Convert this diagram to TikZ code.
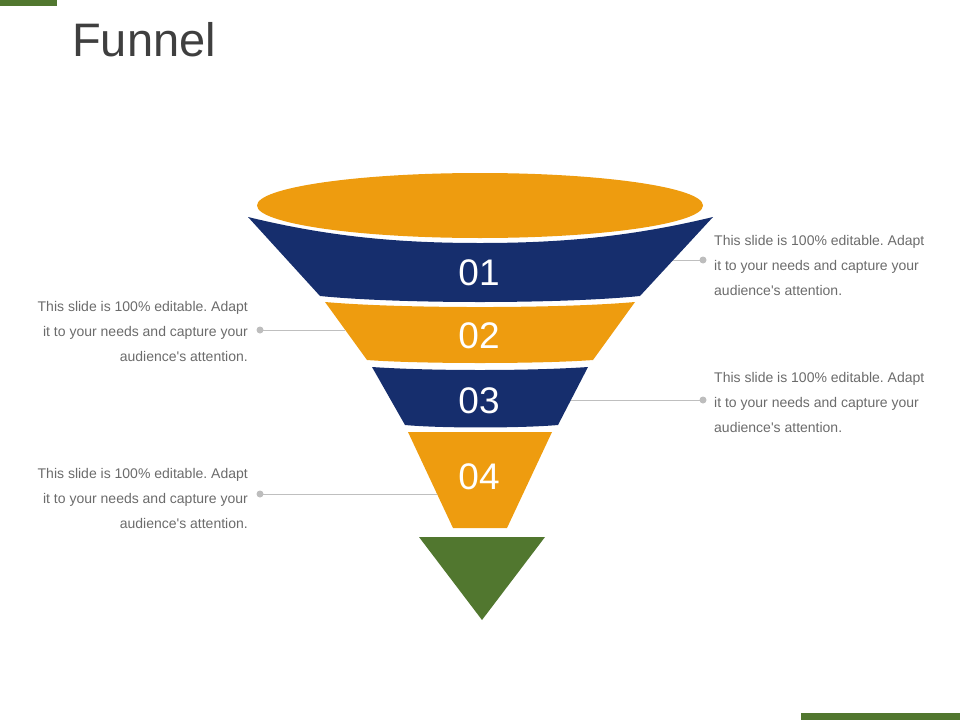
\documentclass[tikz,border=0pt]{standalone}
\usepackage{fontspec}
\setmainfont{Liberation Sans}
\frenchspacing
\definecolor{forange}{HTML}{EE9C0F}
\definecolor{fnavy}{HTML}{162E6D}
\definecolor{fgreen}{HTML}{51772F}
\definecolor{ftitle}{HTML}{3F3F3F}
\definecolor{ftext}{HTML}{6B6B6B}
\definecolor{fline}{HTML}{BFBFBF}
\definecolor{fdot}{HTML}{BDBDBD}
\newcommand{\desctext}{This slide is 100\% editable. Adapt\\it to your needs and capture your\\audience\textquotesingle s attention.}
\tikzset{
  numlabel/.style={text=white,font=\fontsize{37}{40}\selectfont,inner sep=0pt},
  desc/.style={text=ftext,font=\fontsize{14}{25}\selectfont,inner sep=0pt},
  leader/.style={draw=fline,line width=1pt},
  dotmark/.style={fill=fdot},
}
\begin{document}
\begin{tikzpicture}[x=1pt,y=-1pt]
\useasboundingbox (0,0) rectangle (960,720);
% corner bars
\fill[fgreen] (0,0) rectangle (57,6);
\fill[fgreen] (801,713) rectangle (960,720);
% title
\node[anchor=base west,inner sep=0pt,text=ftitle,font=\fontsize{47}{50}\selectfont] (title) at (72,56) {Funnel};
% top ellipse
\fill[forange] (480,205.5) ellipse [x radius=223,y radius=32.5];
% band 1
\fill[fnavy] (248,217) .. controls (330,237) and (400,243) .. (480,243)
  .. controls (560,243) and (630,237) .. (713,217)
  -- (640,296) .. controls (560,304) and (400,304) .. (320,296) -- cycle;
% band 2
\fill[forange] (325,302) .. controls (400,308.7) and (560,308.7) .. (635,302)
  -- (593,360) .. controls (540,364) and (420,364) .. (367,360) -- cycle;
% band 3
\fill[fnavy] (372,367) .. controls (430,371) and (530,371) .. (588,367)
  -- (558,425) .. controls (520,428.3) and (440,428.3) .. (405,425) -- cycle;
% band 4
\fill[forange] (408,432) -- (552,432) -- (507,528) -- (453,528) -- cycle;
% tip
\fill[fgreen] (419,537) -- (545,537) -- (482,620) -- cycle;
% numbers
\node[numlabel] (n1) at (479,273) {01};
\node[numlabel] (n2) at (479,336) {02};
\node[numlabel] (n3) at (479,401) {03};
\node[numlabel] (n4) at (479,477) {04};
% leader coordinates
\coordinate (e1) at (673,260);
\coordinate (d1) at (703,260);
\coordinate (e2) at (345,330);
\coordinate (d2) at (260,330);
\coordinate (e3) at (571,400);
\coordinate (d3) at (703,400);
\coordinate (e4) at (437,494);
\coordinate (d4) at (260,494);
\draw[leader] (e1) -- (d1);
\draw[leader] (e2) -- (d2);
\draw[leader] (e3) -- (d3);
\draw[leader] (e4) -- (d4);
\fill[dotmark] (d1) circle (3.5);
\fill[dotmark] (d2) circle (3.5);
\fill[dotmark] (d3) circle (3.5);
\fill[dotmark] (d4) circle (3.5);
% descriptions
\node[desc,anchor=north west,align=left] (t1) at (714,235.5) {\desctext};
\node[desc,anchor=north east,align=right] (t2) at (248,301.5) {\desctext};
\node[desc,anchor=north west,align=left] (t3) at (714,372.5) {\desctext};
\node[desc,anchor=north east,align=right] (t4) at (248,468.5) {\desctext};
\end{tikzpicture}
\end{document}
